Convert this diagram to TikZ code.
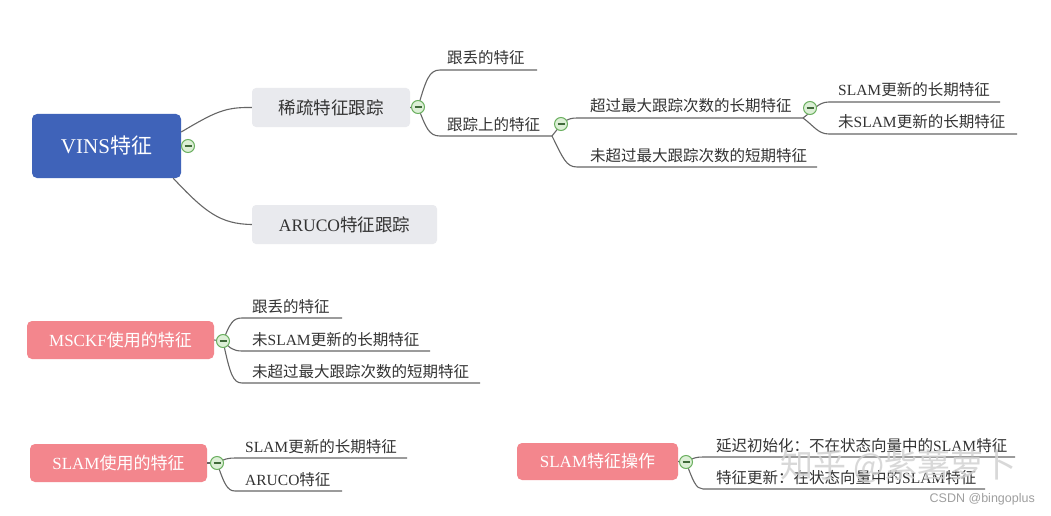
\documentclass[tikz,border=0pt]{standalone}
\usepackage{fontspec}
\setmainfont{Noto Sans CJK SC}
\newfontfamily\latn{Liberation Serif}
\newfontfamily\wsans{Liberation Sans}
\usetikzlibrary{calc}
\definecolor{rootblue}{HTML}{3F63B9}
\definecolor{graybox}{HTML}{E9EAEE}
\definecolor{pinkbox}{HTML}{F3868D}
\definecolor{txt}{HTML}{333333}
\definecolor{wire}{HTML}{666666}
\definecolor{toggreen}{HTML}{6BB060}
\definecolor{togfill}{HTML}{DCEFD6}
\newcommand\lt[1]{{\latn #1}}
\tikzset{
  rootbox/.style={rounded corners=5pt, fill=rootblue, text=white, inner sep=0pt,
    font=\fontsize{21}{24}\selectfont},
  subbox/.style={rounded corners=4pt, fill=graybox, text=txt, inner sep=0pt,
    minimum height=39pt, font=\fontsize{17.5}{20}\selectfont},
  pinkb/.style={rounded corners=5pt, fill=pinkbox, text=white, inner sep=0pt,
    minimum height=38pt, font=\fontsize{17}{20}\selectfont},
  leaf/.style={anchor=base west, text=txt, inner sep=0pt, font=\fontsize{15.5}{18}\selectfont},
  wirel/.style={draw=wire, line width=1.1pt},
  tog/.style={circle, draw=toggreen, fill=togfill, line width=1pt, minimum size=13pt,
    inner sep=0pt, path picture={\draw[line width=1.2pt, toggreen!60!black]
      ([xshift=-3.5pt]path picture bounding box.center) -- ([xshift=3.5pt]path picture bounding box.center);}},
  wm/.style={text=gray!35, opacity=0.85, inner sep=0pt, font=\fontsize{33}{36}\selectfont},
  wm2/.style={text=gray!75, inner sep=0pt, font=\wsans\fontsize{12.5}{14}\selectfont}
}
\begin{document}
\begin{tikzpicture}[x=1pt,y=-1pt]
\fill[white] (0,0) rectangle (1051,516);
\useasboundingbox (0,0) rectangle (1051,516);

% ---------- VINS tree ----------
\node[rootbox, minimum width=149pt, minimum height=64pt] (vins) at (106.5,146) {\lt{VINS}特征};
\node[subbox, minimum width=158pt] (sparse) at (331,107.5) {稀疏特征跟踪};
\node[subbox, minimum width=185pt] (aruco) at (344.5,224.5) {\lt{ARUCO}特征跟踪};

\draw[wirel] ([yshift=14pt]vins.east) .. controls (215,112) and (225,107) .. (sparse.west);
\draw[wirel] ([xshift=-8pt]vins.south east) .. controls (205,212) and (220,224) .. (aruco.west);
\draw[wirel] (sparse.east) -- (418,107);

% leaves of sparse
\coordinate (s) at (418,107);
\coordinate (a1) at (440,70);   \coordinate (a1e) at (537,70);
\coordinate (a2) at (440,136);  \coordinate (a2e) at (552,136);
\draw[wirel] (s) .. controls (426,80) and (429,70) .. (a1) -- (a1e);
\draw[wirel] (s) .. controls (426,128) and (429,136) .. (a2) -- (a2e);
\node[leaf] (lost) at (447,64) {跟丢的特征};
\node[leaf] (tracked) at (447,130) {跟踪上的特征};

% leaves of tracked
\coordinate (b1) at (577,118);  \coordinate (b1e) at (803,118);
\coordinate (b2) at (577,167);  \coordinate (b2e) at (817,167);
\draw[wirel] (a2e) .. controls (563,122) and (566,118) .. (b1) -- (b1e);
\draw[wirel] (a2e) .. controls (563,158) and (566,167) .. (b2) -- (b2e);
\node[leaf] (longf) at (590,112) {超过最大跟踪次数的长期特征};
\node[leaf] (shortf) at (590,161) {未超过最大跟踪次数的短期特征};

% leaves of long
\coordinate (c1) at (829,102);  \coordinate (c1e) at (1000,102);
\coordinate (c2) at (829,134);  \coordinate (c2e) at (1017,134);
\draw[wirel] (b1e) .. controls (814,110) and (818,102) .. (c1) -- (c1e);
\draw[wirel] (b1e) .. controls (814,126) and (818,134) .. (c2) -- (c2e);
\node[leaf] (slamup) at (838,96) {\lt{SLAM}更新的长期特征};
\node[leaf] (noslam) at (838,128) {未\lt{SLAM}更新的长期特征};

\node[tog] (tv) at (188,146) {};
\node[tog] (ts) at (418,107) {};
\node[tog] (tt) at (561,124) {};
\node[tog] (tu) at (810,108) {};

% ---------- MSCKF ----------
\node[pinkb, minimum width=187pt] (msckf) at (120.5,340) {\lt{MSCKF}使用的特征};
\coordinate (m) at (223,341);
\coordinate (m1) at (242,318);  \coordinate (m1e) at (342,318);
\coordinate (m2) at (242,351);  \coordinate (m2e) at (430,351);
\coordinate (m3) at (242,383);  \coordinate (m3e) at (480,383);
\draw[wirel] (msckf.east) -- (m);
\draw[wirel] (m) .. controls (230,323) and (233,318) .. (m1) -- (m1e);
\draw[wirel] (m) .. controls (230,348) and (233,351) .. (m2) -- (m2e);
\draw[wirel] (m) .. controls (230,374) and (233,383) .. (m3) -- (m3e);
\node[leaf] (ml1) at (252,312) {跟丢的特征};
\node[leaf] (ml2) at (252,345) {未\lt{SLAM}更新的长期特征};
\node[leaf] (ml3) at (252,377) {未超过最大跟踪次数的短期特征};
\node[tog] (tm) at (m) {};

% ---------- SLAM used ----------
\node[pinkb, minimum width=177pt] (slamuse) at (118.5,463) {\lt{SLAM}使用的特征};
\coordinate (q) at (217,463);
\coordinate (q1) at (235,458);  \coordinate (q1e) at (407,458);
\coordinate (q2) at (235,491);  \coordinate (q2e) at (342,491);
\draw[wirel] (slamuse.east) -- (q);
\draw[wirel] (q) .. controls (224,459) and (228,458) .. (q1) -- (q1e);
\draw[wirel] (q) .. controls (224,483) and (227,491) .. (q2) -- (q2e);
\node[leaf] (sq1) at (245,452) {\lt{SLAM}更新的长期特征};
\node[leaf] (sq2) at (245,485) {\lt{ARUCO}特征};
\node[tog] (tq) at (q) {};

% ---------- SLAM ops ----------
\node[pinkb, minimum width=161pt, minimum height=37pt] (slamop) at (597.5,461.5) {\lt{SLAM}特征操作};
\coordinate (o) at (686,462);
\coordinate (o1) at (703,457);  \coordinate (o1e) at (1015,457);
\coordinate (o2) at (703,489);  \coordinate (o2e) at (985,489);
\draw[wirel] (slamop.east) -- (o);
\draw[wirel] (o) .. controls (693,458) and (696,457) .. (o1) -- (o1e);
\draw[wirel] (o) .. controls (693,481) and (696,489) .. (o2) -- (o2e);
\node[leaf] (op1) at (716,451) {延迟初始化：不在状态向量中的\lt{SLAM}特征};
\node[leaf] (op2) at (716,483) {特征更新：在状态向量中的\lt{SLAM}特征};
\node[tog] (to) at (o) {};

% ---------- watermarks ----------
\node[wm, anchor=west] (wmz) at (780,466) {知乎 @紫薯萝卜};
\node[wm2, anchor=east] (wmc) at (1035,499) {CSDN @bingoplus};
\end{tikzpicture}
\end{document}
